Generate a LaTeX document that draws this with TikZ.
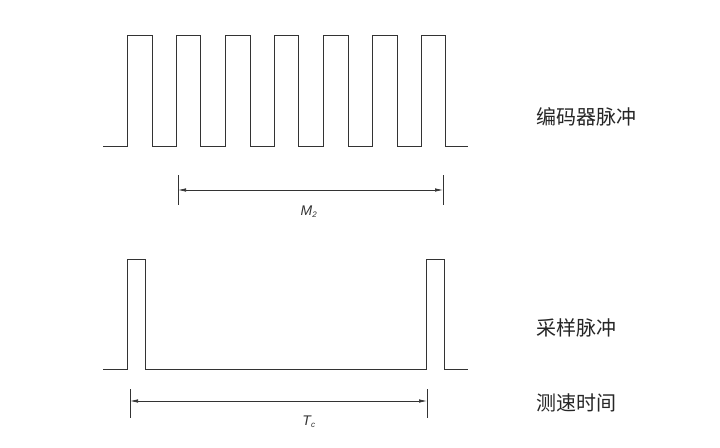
\documentclass[tikz,border=0pt]{standalone}
\usepackage{fontspec}
\newfontfamily\cjk{Noto Sans CJK SC}
\setmainfont{Liberation Sans}
\usetikzlibrary{arrows.meta}
\begin{document}
\begin{tikzpicture}[x=1pt,y=-1pt,
  wave/.style={line width=1.0pt,color=black!80},
  tickl/.style={line width=0.8pt,color=black!80},
  dim/.style={line width=0.7pt,color=black!80,{Latex[length=8pt,width=3.5pt]}-{Latex[length=8pt,width=3.5pt]}},
  lab/.style={font=\cjk\fontsize{20}{24}\selectfont,anchor=west,text=black!85},
  sym/.style={font=\itshape\fontsize{14}{16}\selectfont,text=black!80}]
\useasboundingbox[fill=white] (0,0) rectangle (720,447);
\draw[wave] (103,146) -- (127,146) -- (127,35) -- (152,35) -- (152,146) -- (176,146) -- (176,35) -- (200,35) -- (200,146) -- (225,146) -- (225,35) -- (250,35) -- (250,146) -- (274,146) -- (274,35) -- (298,35) -- (298,146) -- (323,146) -- (323,35) -- (348,35) -- (348,146) -- (372,146) -- (372,35) -- (397,35) -- (397,146) -- (421,146) -- (421,35) -- (445,35) -- (445,146) -- (468,146);
\coordinate (m1) at (178,190); \coordinate (m2) at (443,190);
\draw[tickl] (178,175) -- (178,205); \draw[tickl] (443,175) -- (443,205);
\draw[dim] (m1) -- (m2);
\node[sym] (M) at (309,212) {M\textsubscript{\fontsize{8}{9}\selectfont 2}};
\draw[wave] (103,369) -- (127,369) -- (127,259) -- (145,259) -- (145,369) -- (426,369) -- (426,259) -- (444,259) -- (444,369) -- (468,369);
\coordinate (t1) at (130,401); \coordinate (t2) at (427,401);
\draw[tickl] (130,389) -- (130,418); \draw[tickl] (427,389) -- (427,418);
\draw[dim] (t1) -- (t2);
\node[sym] (T) at (309,422) {T\textsubscript{\fontsize{8}{9}\selectfont c}};
\node[lab] (l1) at (533,117) {编码器脉冲};
\node[lab] (l2) at (533,328) {采样脉冲};
\node[lab] (l3) at (533,403) {测速时间};
\end{tikzpicture}
\end{document}
